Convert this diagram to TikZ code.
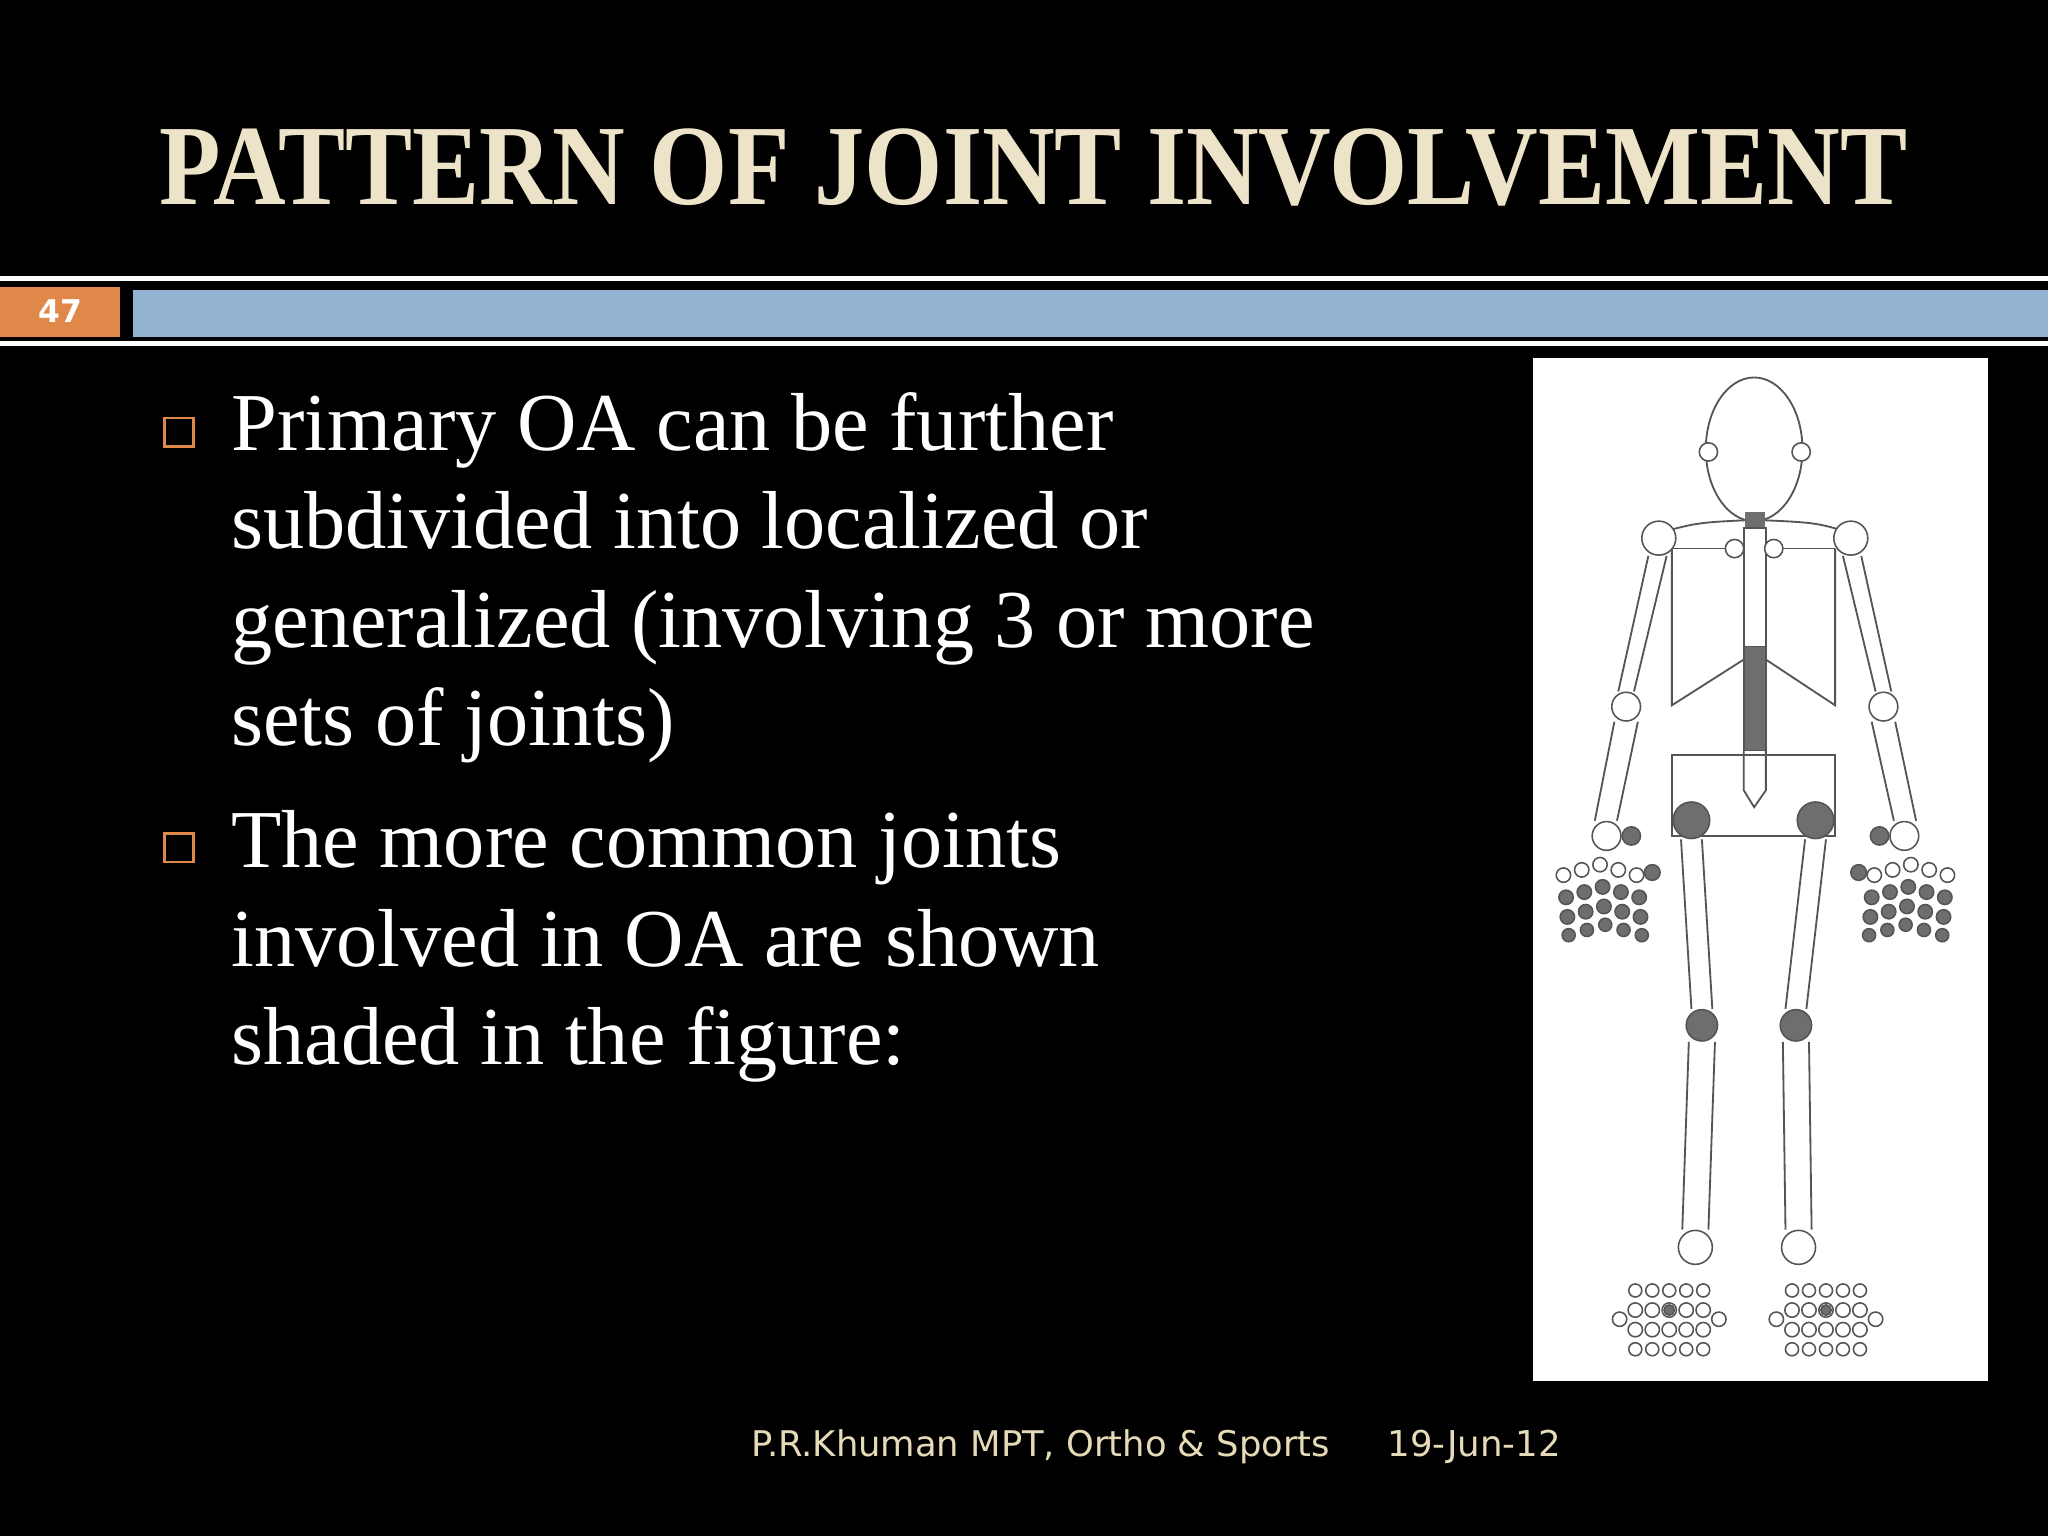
\documentclass[tikz,border=0pt]{standalone}
\usepackage{fontspec}
\usepackage{graphicx}
\setmainfont{Liberation Serif}
\newfontfamily\footfont{DejaVu Sans}
\definecolor{cream}{HTML}{EDE3C8}
\definecolor{orangeb}{HTML}{E0884A}
\definecolor{blueb}{HTML}{93B3D3}
\definecolor{footc}{HTML}{E6DBB8}
\definecolor{bone}{HTML}{555555}
\definecolor{jointgray}{HTML}{6E6E6E}
\tikzset{
 bl/.style={draw=bone,line width=1.4pt},
 jt/.style={circle,draw=bone,fill=white,line width=1.2pt,minimum size=#1,inner sep=0pt},
 dj/.style={circle,draw=bone,fill=jointgray,line width=1.2pt,minimum size=#1,inner sep=0pt},
 bullet/.style={draw=orangeb,line width=2pt,minimum size=22pt,inner sep=0pt},
 body/.style={anchor=base west,text=white,font=\fontsize{63}{74}\selectfont,inner sep=0pt}
}
\begin{document}
\begin{tikzpicture}[x=1pt,y=-1pt]
\fill[black] (0,0) rectangle (1568,1176);
\useasboundingbox (0,0) rectangle (1568,1176);
% title
\node[text=cream,inner sep=0pt] (title) at (791,128) {\resizebox{1338pt}{58pt}{\bfseries PATTERN OF JOINT INVOLVEMENT}};
% band
\fill[white] (0,211) rectangle (1568,215);
\fill[white] (0,261) rectangle (1568,265);
\fill[orangeb] (0,220) rectangle (92,258);
\node[text=white,font=\footfont\bfseries\fontsize{24}{24}\selectfont] (num) at (46,238) {47};
\fill[blueb] (102,222) rectangle (1568,258);
% bullets
\node[bullet] (b1) at (137,331) {};
\node[bullet] (b2) at (137,649) {};
\node[body] (t1) at (177,345) {Primary OA can be further};
\node[body] (t2) at (177,420) {subdivided into localized or};
\node[body] (t3) at (177,496) {generalized (involving 3 or more};
\node[body] (t4) at (177,571) {sets of joints)};
\node[body] (t5) at (177,664) {The more common joints};
\node[body] (t6) at (177,740) {involved in OA are shown};
\node[body] (t7) at (177,815) {shaded in the figure:};
% footer
\node[anchor=base west,text=footc,font=\footfont\fontsize{26}{26}\selectfont,inner sep=0pt] (f1) at (575,1115) {\resizebox{443pt}{!}{P.R.Khuman MPT, Ortho \& Sports}};
\node[anchor=base west,text=footc,font=\footfont\fontsize{26}{26}\selectfont,inner sep=0pt] (f2) at (1062,1115) {\resizebox{133pt}{!}{19-Jun-12}};
% skeleton panel
\fill[white] (1174,274) rectangle (1522,1057);
% head
\draw[bl] (1343,344) ellipse (37 and 55);
\node[jt=14pt] (earL) at (1308,346) {};
\node[jt=14pt] (earR) at (1379,346) {};
% shoulders
\draw[bl] (1270,408) .. controls (1300,400) .. (1343,398) .. controls (1390,400) .. (1417,408);
\fill[jointgray] (1336,392) rectangle (1351,404);
% ribcage
\draw[bl] (1280,420) -- (1280,540) -- (1335,505);
\draw[bl] (1405,420) -- (1405,540) -- (1352,505);
\draw[bl] (1280,420) -- (1405,420);
% spine
\draw[bl,fill=white] (1335,404) rectangle (1352,495);
\draw[bl,fill=jointgray] (1335,495) rectangle (1352,575);
\draw[bl,fill=white] (1335,575) -- (1335,605) -- (1343,618) -- (1352,605) -- (1352,575);
\node[jt=14pt] (c1) at (1328,420) {};
\node[jt=14pt] (c2) at (1358,420) {};
% pelvis
\draw[bl] (1280,578) rectangle (1405,640);
% arms
\node[jt=26pt] (shL) at (1270,412) {};
\node[jt=26pt] (shR) at (1417,412) {};
\node[jt=22pt] (elL) at (1245,541) {};
\node[jt=22pt] (elR) at (1442,541) {};
\node[jt=22pt] (wrL) at (1230,640) {};
\node[jt=22pt] (wrR) at (1458,640) {};
\draw[bl] ([xshift=-8pt]shL.south) -- ([xshift=-6pt]elL.north) ([xshift=6pt]shL.south) -- ([xshift=6pt]elL.north);
\draw[bl] ([xshift=-6pt]shR.south) -- ([xshift=-6pt]elR.north) ([xshift=8pt]shR.south) -- ([xshift=6pt]elR.north);
\draw[bl] ([xshift=-9pt]elL.south) -- ([xshift=-9pt]wrL.north) ([xshift=9pt]elL.south) -- ([xshift=8pt]wrL.north);
\draw[bl] ([xshift=-9pt]elR.south) -- ([xshift=-8pt]wrR.north) ([xshift=9pt]elR.south) -- ([xshift=9pt]wrR.north);
% hands
\foreach \s/\cx in {-1/1225,1/1463}{
 \node[dj=14pt] at (\cx-\s*24,640) {};
 \foreach \i in {0,...,4}{
  \pgfmathsetmacro{\hx}{\cx+(\i-2)*14}
  \pgfmathsetmacro{\dy}{abs(\i-2)*4}
  \node[jt=11pt] at (\hx,662+\dy) {};
  \node[dj=11pt] at (\hx-\s*2,679+\dy) {};
  \node[dj=11pt] at (\hx-\s*3,694+\dy) {};
  \node[dj=10pt] at (\hx-\s*4,708+\dy) {};
 }
 \node[dj=12pt] at (\cx-\s*40,668) {};
}
% legs
\node[dj=28pt] (hipL) at (1295,628) {};
\node[dj=28pt] (hipR) at (1390,628) {};
\node[dj=24pt] (knL) at (1303,785) {};
\node[dj=24pt] (knR) at (1375,785) {};
\node[jt=26pt] (anL) at (1298,955) {};
\node[jt=26pt] (anR) at (1377,955) {};
\draw[bl] ([xshift=-8pt]hipL.south) -- ([xshift=-8pt]knL.north) ([xshift=8pt]hipL.south) -- ([xshift=8pt]knL.north);
\draw[bl] ([xshift=-8pt]hipR.south) -- ([xshift=-8pt]knR.north) ([xshift=8pt]hipR.south) -- ([xshift=8pt]knR.north);
\draw[bl] ([xshift=-10pt]knL.south) -- ([xshift=-10pt]anL.north) ([xshift=10pt]knL.south) -- ([xshift=10pt]anL.north);
\draw[bl] ([xshift=-10pt]knR.south) -- ([xshift=-10pt]anR.north) ([xshift=10pt]knR.south) -- ([xshift=10pt]anR.north);
% feet
\foreach \cx in {1278,1398}{
 \foreach \i in {0,...,4}{
  \pgfmathsetmacro{\fx}{\cx+(\i-2)*13}
  \node[jt=10pt] at (\fx,988) {};
  \node[jt=11pt] at (\fx,1003) {};
  \node[jt=11pt] at (\fx,1018) {};
  \node[jt=10pt] at (\fx,1033) {};
 }
 \node[dj=8pt] at (\cx,1003) {};
 \node[jt=11pt] at (\cx-38,1010) {};
 \node[jt=11pt] at (\cx+38,1010) {};
}
\end{tikzpicture}
\end{document}
